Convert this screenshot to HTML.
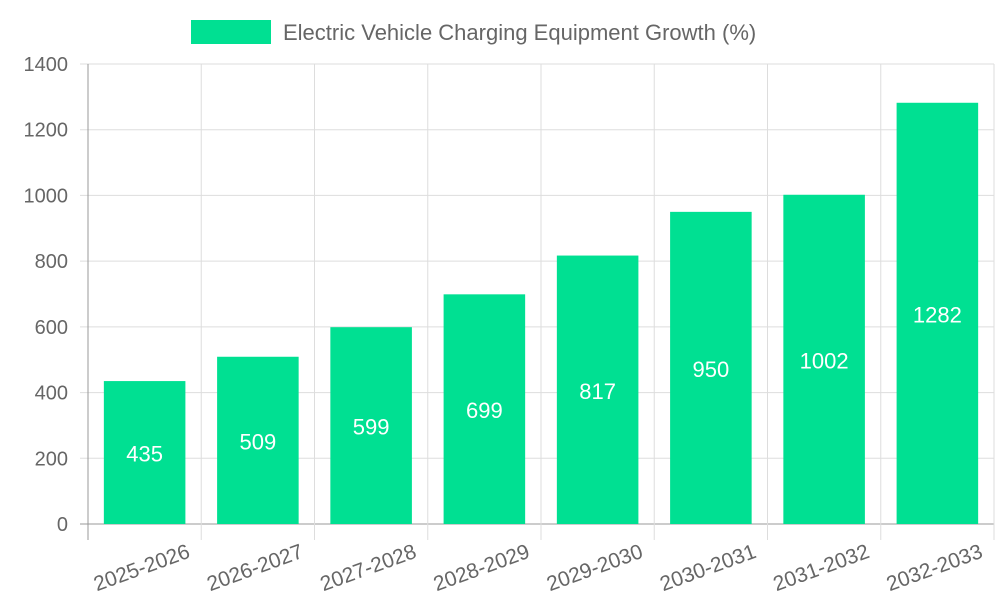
<!DOCTYPE html>
<html><head><meta charset="utf-8"><style>
body{margin:0;background:#fff;}
svg{display:block;font-family:"Liberation Sans",sans-serif;}
</style></head><body>
<svg id="chart" width="1000" height="600">
<rect x="191" y="20" width="80" height="24" fill="#00e092"/>
<text x="283" y="40" font-size="22" fill="#666">Electric Vehicle Charging Equipment Growth (%)</text>
<g id="grid"></g><g id="bars"></g><g id="labels"></g>
</svg>
<script>
const categories=["2025-2026","2026-2027","2027-2028","2028-2029","2029-2030","2030-2031","2031-2032","2032-2033"];
const values=[435,509,599,699,817,950,1002,1282];
const yTicks=[0,200,400,600,800,1000,1200,1400];
const NS="http://www.w3.org/2000/svg";
const L=88,R=994,T=64,B=524,yMax=1400;
const y=v=>B-(v/yMax)*(B-T);
const step=(R-L)/categories.length;
const x=i=>L+step*i;
const svg=document.getElementById('chart');
const grid=document.getElementById('grid'),bars=document.getElementById('bars'),labels=document.getElementById('labels');
function mk(tag,attrs,parent){const e=document.createElementNS(NS,tag);for(const k in attrs)e.setAttribute(k,attrs[k]);parent.appendChild(e);return e;}
yTicks.forEach(t=>{
  const l=mk('line',{x1:L-8,x2:R,y1:y(t),y2:y(t),stroke:t===0?'#999':'#ddd','stroke-width':1},grid);
  
  
  const tx=mk('text',{x:L-20,y:y(t)+7,'text-anchor':'end','font-size':20,fill:'#666'},grid);
  tx.textContent=t;
  
  
});
for(let i=0;i<=categories.length;i++){
  const l=mk('line',{x1:x(i),x2:x(i),y1:T,y2:B+16,stroke:i===0?'#999':'#ddd','stroke-width':1},grid);
  
  
}
categories.forEach((c,i)=>{
  const cx=x(i)+step/2,bw=step*0.72;
  const r=mk('rect',{x:cx-bw/2,y:y(values[i]),width:bw,height:B-y(values[i]),fill:'#00e092'},bars);
  
  
  const v=mk('text',{x:cx,y:(y(values[i])+B)/2+9,'text-anchor':'middle','font-size':22,fill:'#fff'},labels);
  v.textContent=values[i];
  
  
  const xl=mk('text',{x:x(i)+step-10,y:B+33,'text-anchor':'end','font-size':21,fill:'#666',transform:`rotate(-20 ${x(i)+step-10} ${B+33})`},labels);
  xl.textContent=c;
  
  
});
</script>
</body></html>
